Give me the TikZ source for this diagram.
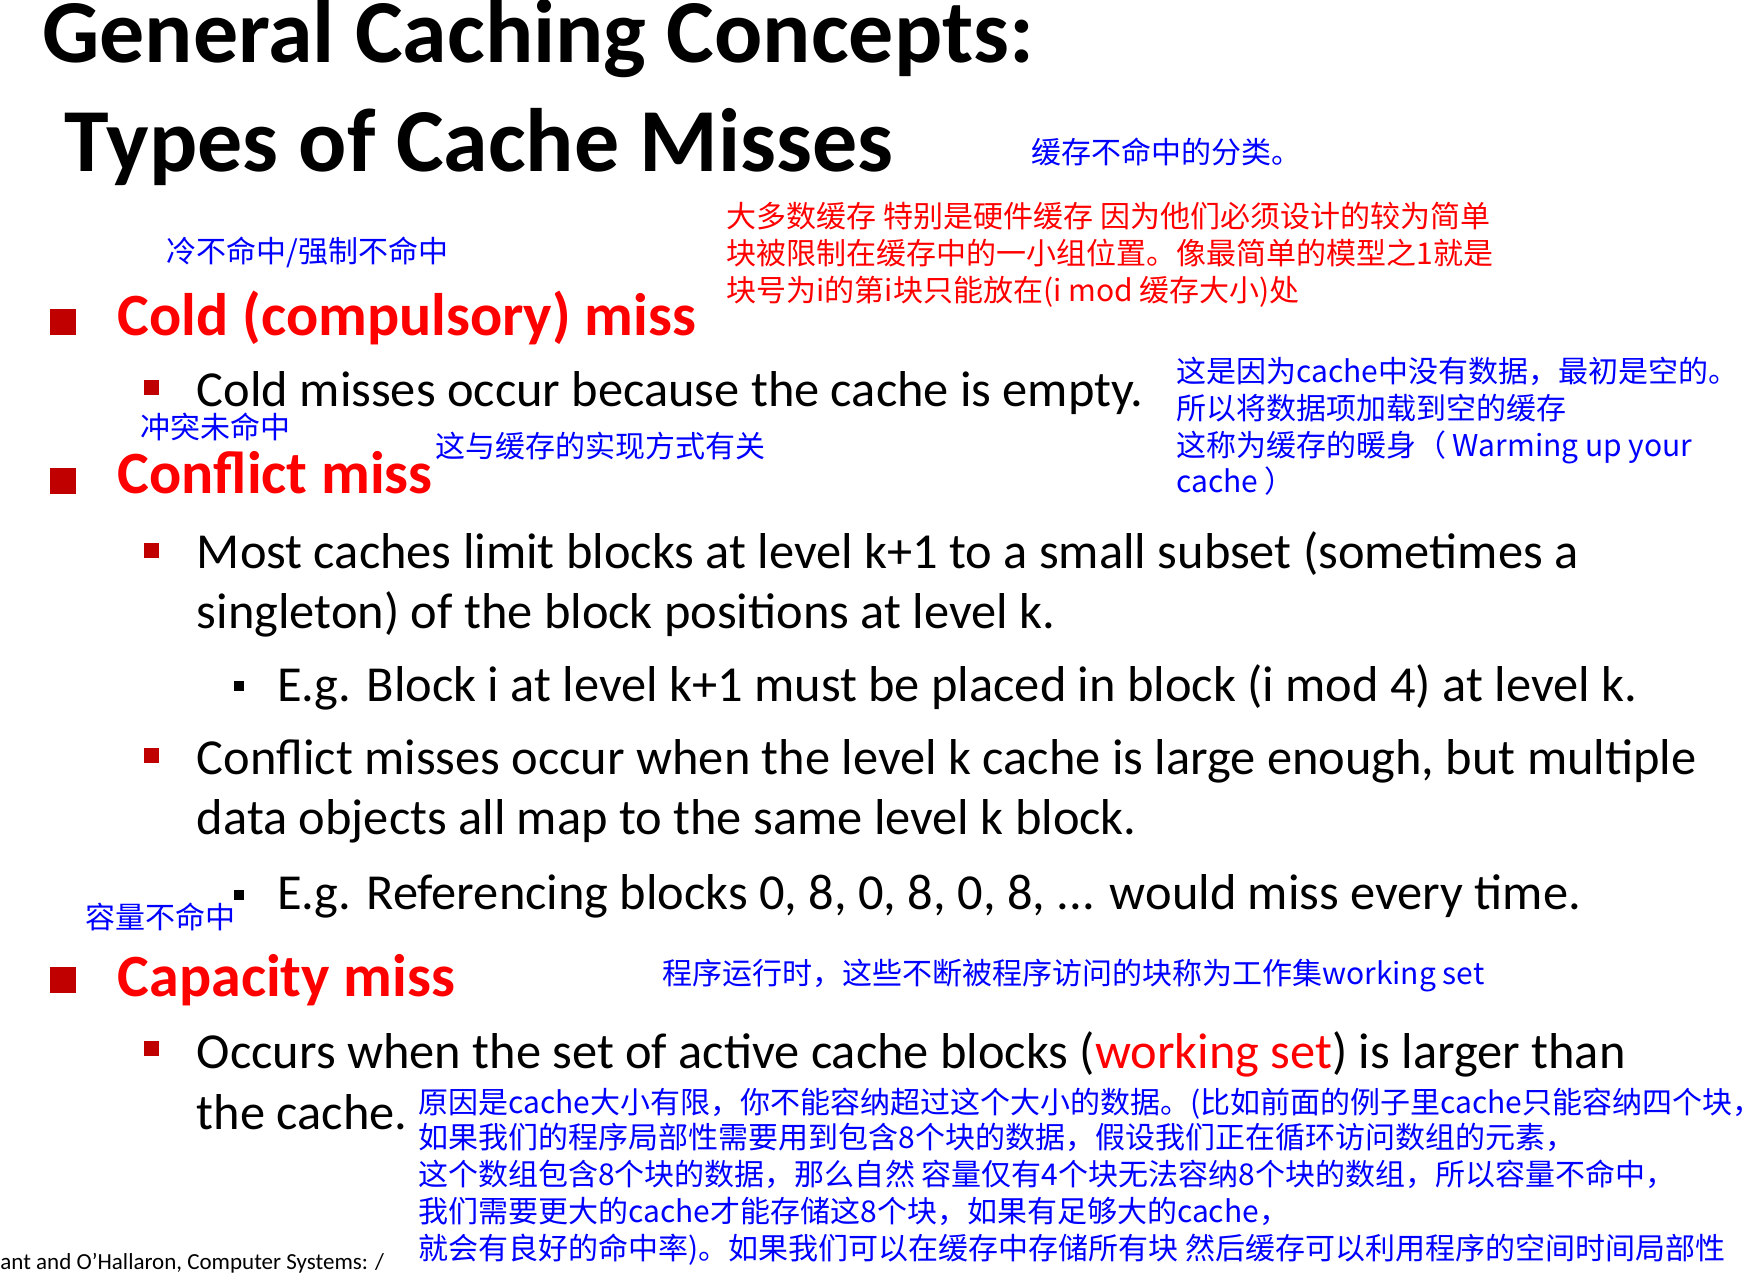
\documentclass[tikz,border=0pt]{standalone}
\usepackage{fontspec}
\setmainfont{Carlito}
\newfontfamily\cjk{Noto Sans CJK SC}
\definecolor{bred}{RGB}{192,0,0}
\definecolor{tred}{RGB}{255,0,0}
\definecolor{nblue}{RGB}{0,0,255}
\begin{document}
\begin{tikzpicture}[x=0.5647pt,y=-0.5647pt,
  every node/.style={inner sep=0pt,anchor=base west},
  ttl/.style={font=\fontsize{45}{48}\selectfont\bfseries},
  head/.style={font=\fontsize{30}{33}\selectfont\bfseries,text=tred},
  body/.style={font=\fontsize{25.2}{28}\selectfont},
  note/.style={font=\cjk\fontsize{15}{18}\selectfont,text=nblue},
  rnote/.style={font=\cjk\fontsize{15}{18}\selectfont,text=tred},
  bigsq/.style={fill=bred,minimum size=13pt,anchor=center},
  midsq/.style={fill=bred,minimum size=7.5pt,anchor=center},
  smsq/.style={fill=black,minimum size=5pt,anchor=center}]
\useasboundingbox (0,0) rectangle (1560,1128);
\node[ttl] (t1) at (37,55) {General Caching Concepts:};
\node[ttl] (t2) at (57,152) {Types of Cache Misses};
\node[note] (n0) at (913,145) {缓存不命中的分类。};
\node[rnote] (r1) at (643,201) {大多数缓存 特别是硬件缓存 因为他们必须设计的较为简单};
\node[rnote] (r2) at (643,234) {块被限制在缓存中的一小组位置。像最简单的模型之1就是};
\node[rnote] (r3) at (643,267) {块号为i的第i块只能放在(i mod 缓存大小)处};
\node[note] (n1) at (147,232) {冷不命中/强制不命中};
\node[bigsq] (b1) at (56,285) {};
\node[head] (h1) at (104,297) {Cold (compulsory) miss};
\node[midsq] (s1) at (134,343) {};
\node[body] (c1) at (174,360) {Cold misses occur because the cache is empty.};
\node[note] (n2) at (1041,339) {这是因为cache中没有数据，最初是空的。};
\node[note] (n3) at (1041,371) {所以将数据项加载到空的缓存};
\node[note] (n4) at (1041,404) {这称为缓存的暖身（ Warming up your};
\node[note] (n5) at (1041,436) {cache ）};
\node[note] (n6) at (124,388) {冲突未命中};
\node[note] (n7) at (385,405) {这与缓存的实现方式有关};
\node[bigsq] (b2) at (56,426) {};
\node[head] (h2) at (104,437) {Conflict miss};
\node[midsq] (s2) at (134,487) {};
\node[body] (c2) at (174,503) {Most caches limit blocks at level k+1 to a small subset (sometimes a};
\node[body] (c3) at (174,556) {singleton) of the block positions at level k.};
\node[smsq] (q1) at (212,607) {};
\node[body] (c4) at (245,621) {E.g. Block i at level k+1 must be placed in block (i mod 4) at level k.};
\node[midsq] (s3) at (134,669) {};
\node[body] (c5) at (174,686) {Conflict misses occur when the level k cache is large enough, but multiple};
\node[body] (c6) at (174,739) {data objects all map to the same level k block.};
\node[smsq] (q2) at (212,792) {};
\node[body] (c7) at (245,805) {E.g. Referencing blocks 0, 8, 0, 8, 0, 8, ... would miss every time.};
\node[note] (n8) at (75,822) {容量不命中};
\node[bigsq] (b3) at (56,868) {};
\node[head] (h3) at (104,882) {Capacity miss};
\node[note] (n9) at (586,872) {程序运行时，这些不断被程序访问的块称为工作集working set};
\node[midsq] (s4) at (134,928) {};
\node[body] (c8) at (174,946) {Occurs when the set of active cache blocks ({\color{tred}working set}) is larger than};
\node[body] (c9) at (174,1000) {the cache.};
\node[note] (m1) at (370,986) {原因是cache大小有限，你不能容纳超过这个大小的数据。(比如前面的例子里cache只能容纳四个块，};
\node[note] (m2) at (370,1017) {如果我们的程序局部性需要用到包含8个块的数据，假设我们正在循环访问数组的元素，};
\node[note] (m3) at (370,1050) {这个数组包含8个块的数据，那么自然 容量仅有4个块无法容纳8个块的数组，所以容量不命中，};
\node[note] (m4) at (370,1082) {我们需要更大的cache才能存储这8个块，如果有足够大的cache，};
\node[note] (m5) at (370,1115) {就会有良好的命中率)。如果我们可以在缓存中存储所有块 然后缓存可以利用程序的空间时间局部性};
\node[font=\fontsize{11.5}{13}\selectfont] (f) at (0,1124) {ant and O’Hallaron, Computer Systems: /};
\end{tikzpicture}
\end{document}
